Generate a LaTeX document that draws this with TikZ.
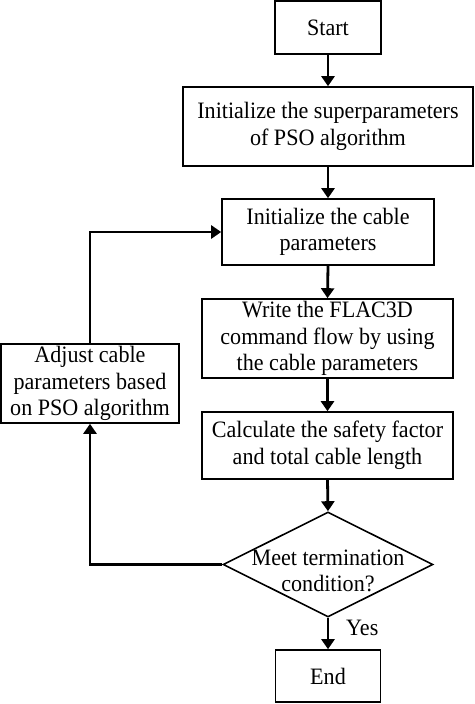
\documentclass[tikz,border=0pt]{standalone}
\usepackage{fontspec}
\setmainfont[FakeStretch=0.94]{Liberation Serif}
\usetikzlibrary{arrows.meta,shapes.geometric}
\begin{document}
\begin{tikzpicture}[x=1pt,y=-1pt,
  every node/.style={font=\fontsize{23.5}{26.5}\selectfont},
  box/.style={draw=black,line width=1.6pt,rectangle,align=center,inner sep=0pt},
  dia/.style={draw=black,line width=1.6pt,diamond,inner sep=0pt,minimum width=210pt,minimum height=105pt},
  flow/.style={line width=2.8pt,-{Triangle[length=10pt,width=13pt]}},
  plain/.style={line width=2.8pt}]
\useasboundingbox (0,0) rectangle (474,704);
\node[box,minimum width=106pt,minimum height=53pt] (start) at (328,27.5) {Start};
\node[box,minimum width=290pt,minimum height=79pt] (super) at (328,126.5) {Initialize the superparameters\\of PSO algorithm};
\node[box,minimum width=212pt,minimum height=66pt] (cable) at (328,232) {Initialize the cable\\parameters};
\node[box,minimum width=251pt,minimum height=79pt] (flac) at (327.5,338.5) {Write the FLAC3D\\command flow by using\\the cable parameters};
\node[box,minimum width=178pt,minimum height=79pt] (adjust) at (90,383.5) {Adjust cable\\parameters based\\on PSO algorithm};
\node[box,minimum width=251pt,minimum height=67pt] (calc) at (327.5,445.5) {Calculate the safety factor\\and total cable length};
\node[dia] (cond) at (328,564.5) {};
\node[align=center] (condtext) at (328,571) {Meet termination\\condition?};
\node[box,minimum width=105pt,minimum height=52pt] (end) at (328,676) {End};
\node[anchor=west,inner sep=0pt] (yes) at (346,628) {Yes};
\draw[flow] (start.south) -- (super.north);
\draw[flow] (super.south) -- (cable.north);
\draw[flow] (cable.south) -- (flac.north);
\draw[flow] (flac.south) -- (calc.north);
\draw[flow] (calc.south) -- (cond.north);
\draw[flow] (cond.south) -- (end.north);
\draw[flow] (cond.west) -| (adjust.south);
\draw[flow] (adjust.north) |- (cable.west);
\end{tikzpicture}
\end{document}
